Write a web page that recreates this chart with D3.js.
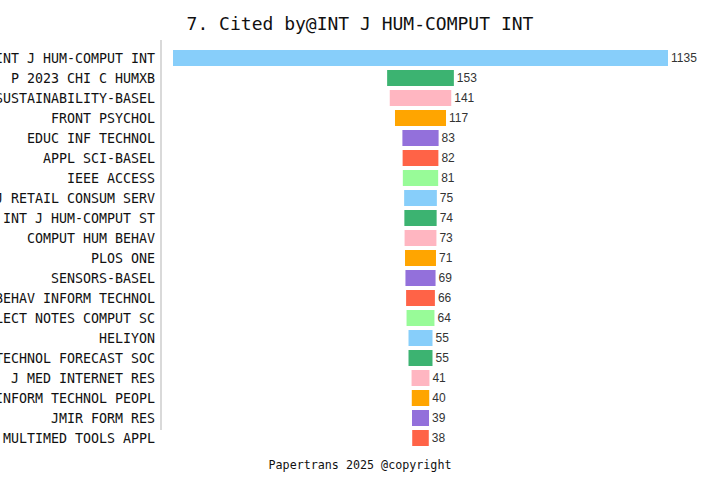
<!DOCTYPE html>
<html>
<head>
<meta charset="utf-8">
<script src="https://cdn.jsdelivr.net/npm/d3@7"></script>
<style>
body{margin:0;background:#fff;}
</style>
</head>
<body>
<div id="chart"></div>
<script>
var journals = ["INT J HUM-COMPUT INT","P 2023 CHI C HUMXB","SUSTAINABILITY-BASEL","FRONT PSYCHOL","EDUC INF TECHNOL",
  "APPL SCI-BASEL","IEEE ACCESS","J RETAIL CONSUM SERV","INT J HUM-COMPUT ST","COMPUT HUM BEHAV",
  "PLOS ONE","SENSORS-BASEL","BEHAV INFORM TECHNOL","LECT NOTES COMPUT SC","HELIYON",
  "TECHNOL FORECAST SOC","J MED INTERNET RES","INFORM TECHNOL PEOPL","JMIR FORM RES","MULTIMED TOOLS APPL"];
var cites = [1135,153,141,117,83,82,81,75,74,73,71,69,66,64,55,55,41,40,39,38];
var colorArr = ["#87CEFA","#3CB371","#FFB6C1","#FFA500","#9370DB","#FF6347","#98FB98"];
var titleText = "7. Cited by@INT J HUM-COMPUT INT";
var footText = "Papertrans 2025 @copyright";

var width = 720, height = 480;
var centerX = 420.5;
var monoFont = "'DejaVu Sans Mono', monospace";

var dataset = journals.map(function(d,i){ return {name:d, value:cites[i]}; });

var svg = d3.select("#chart").append("svg")
  .attr("width", width)
  .attr("height", height);

// 세로 위치
var y = d3.scaleBand()
  .domain(journals)
  .range([48, 448])
  .paddingInner(0.2)
  .paddingOuter(0.1);

// 막대 폭 (가운데 정렬)
var x = d3.scaleLinear()
  .domain([0, d3.max(cites)])
  .range([0, 495]);

svg.append("text")
  .attr("x", 360)
  .attr("y", 30)
  .attr("text-anchor", "middle")
  .style("font-family", monoFont)
  .style("font-size", "18px")
  .style("fill", "#111")
  .text(titleText);

// 왼쪽 축선
svg.append("line")
  .attr("x1", 161).attr("x2", 161)
  .attr("y1", 40).attr("y2", 430)
  .attr("stroke", "#d9d9d9")
  .attr("stroke-width", 2);

svg.selectAll(".label_text")
  .data(dataset).enter().append("text")
  .attr("class", "label_text")
  .attr("x", 155)
  .attr("y", function(d){ return y(d.name) + y.bandwidth()/2; })
  .attr("dy", "0.35em")
  .attr("text-anchor", "end")
  .style("font-family", monoFont)
  .style("font-size", "13.3px")
  .style("fill", "#111")
  .text(function(d){ return d.name; });

svg.selectAll(".bar")
  .data(dataset).enter().append("rect")
  .attr("class", "bar")
  .attr("x", function(d){ return centerX - x(d.value)/2; })
  .attr("y", function(d){ return y(d.name); })
  .attr("width", function(d){ return x(d.value); })
  .attr("height", y.bandwidth())
  .style("fill", function(d,i){ return colorArr[i % colorArr.length]; });

svg.selectAll(".val_text")
  .data(dataset).enter().append("text")
  .attr("class", "val_text")
  .attr("x", function(d){ return centerX + x(d.value)/2 + 3; })
  .attr("y", function(d){ return y(d.name) + y.bandwidth()/2; })
  .attr("dy", "0.35em")
  .style("font-family", "'Liberation Sans', Arial, sans-serif")
  .style("font-size", "12px")
  .style("fill", "#333")
  .text(function(d){ return d.value; });

svg.append("text")
  .attr("x", 360)
  .attr("y", 469)
  .attr("text-anchor", "middle")
  .style("font-family", monoFont)
  .style("font-size", "11.7px")
  .style("fill", "#111")
  .text(footText);
</script>
</body>
</html>
